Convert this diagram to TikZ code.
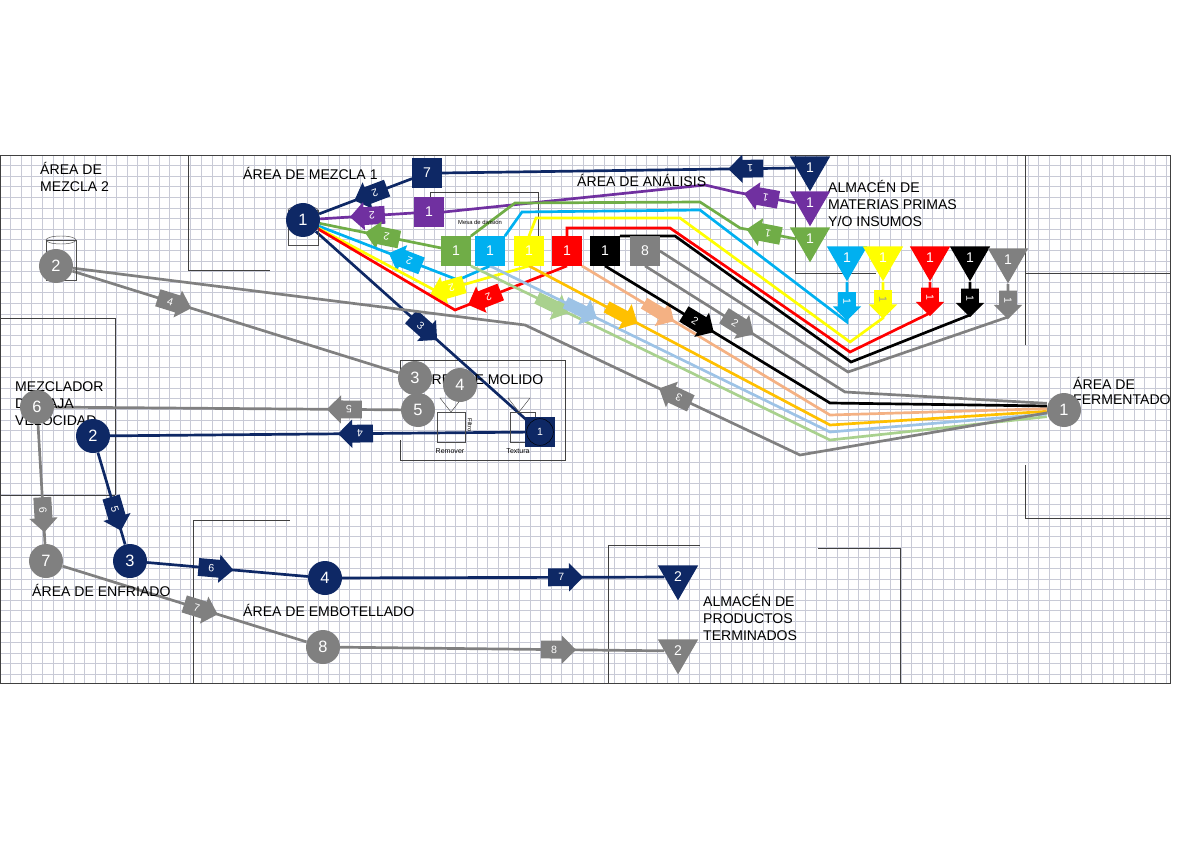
\documentclass[tikz,border=0pt]{standalone}
\usepackage{fontspec}
\setmainfont{Liberation Sans}
\usetikzlibrary{shapes.geometric,shapes.arrows}
\pgfdeclarelayer{background}
\pgfsetlayers{background,main}
\definecolor{nv}{HTML}{0E2865}
\definecolor{pu}{HTML}{7030A0}
\definecolor{gr}{HTML}{70AD47}
\definecolor{cy}{HTML}{00B0F0}
\definecolor{ye}{HTML}{FFFF00}
\definecolor{rd}{HTML}{FF0000}
\definecolor{gy}{HTML}{808080}
\definecolor{lg}{HTML}{A9D18E}
\definecolor{lb}{HTML}{9DC3E6}
\definecolor{og}{HTML}{FFC000}
\definecolor{pc}{HTML}{F4B183}
\definecolor{gridc}{HTML}{C8CAD6}
\tikzset{
 circ/.style={circle,fill=#1,text=white,minimum size=1.02cm,inner sep=0pt,font=\fontsize{14}{14}\selectfont},
 sq/.style={rectangle,fill=#1,text=white,minimum size=0.88cm,inner sep=0pt,font=\fontsize{12}{12}\selectfont},
 tri/.style={regular polygon,regular polygon sides=3,shape border rotate=180,fill=#1,text=white,minimum size=1.4cm,inner sep=0pt,font=\fontsize{12}{12}\selectfont},
 arr/.style={single arrow,fill=#1,text=white,minimum height=1.05cm,minimum width=0.85cm,single arrow head extend=0.12cm,inner sep=1.5pt,font=\fontsize{9}{9}\selectfont,sloped,allow upside down},
 fl/.style={draw=#1,line width=2.3pt},
 lbl/.style={font=\fontsize{12}{14.5}\selectfont,align=left,inner sep=0pt},
 wall/.style={draw=black!75,line width=0.8pt}
}
\begin{document}
\begin{tikzpicture}[x=0.03cm,y=-0.03cm]
\useasboundingbox (0,0) rectangle (1200,849);
% labels
\node[lbl,anchor=north west] at (40,162) {ÁREA DE\\MEZCLA 2};
\node[lbl,anchor=west] at (243,173) {ÁREA DE MEZCLA 1};
\node[lbl,anchor=west] at (577,180) {ÁREA DE ANÁLISIS};
\node[lbl,anchor=north west] at (828,180) {ALMACÉN DE\\MATERIAS PRIMAS\\Y/O INSUMOS};
\node[lbl,anchor=north west] at (1073,377) {ÁREA DE\\[-2pt]FERMENTADO};
\node[lbl,anchor=west] at (422,378) {ÁREA DE MOLIDO};
\node[lbl,anchor=north west] at (15,381) {MEZCLADOR\\DE BAJA\\VELOCIDAD};
\node[lbl,anchor=west] at (32,590) {ÁREA DE ENFRIADO};
\node[lbl,anchor=west] at (243,610) {ÁREA DE EMBOTELLADO};
\node[lbl,anchor=north west] at (703,594) {ALMACÉN DE\\PRODUCTOS\\TERMINADOS};
\node[font=\fontsize{5}{5}\selectfont] (mesa) at (480,222) {Mesa de división};
\node[font=\fontsize{6}{6}\selectfont] (rem) at (450,451) {Remover};
\node[font=\fontsize{6}{6}\selectfont] (tex) at (518,451) {Textura};
\node[font=\fontsize{5}{5}\selectfont,rotate=-90] (fil) at (470,425) {Filtro};
% small equipment
\draw[black!70] (437,412) rectangle (465,442);
\draw[black!70] (510,412) rectangle (535,442);
\draw[black!70] (440,398) -- (462,398) -- (451,412) -- cycle;
\draw[black!70] (508,398) -- (530,398) -- (519,412) -- cycle;
\draw[black!70] (46,240) rectangle (76,280); \draw[black!70] (61,240) ellipse (15 and 4);
\draw[black!70] (288,210) rectangle (318,245); \draw[black!70] (303,210) ellipse (15 and 4);
% nodes
\node[circ=nv] (m1) at (303,220) {1};
\node[sq=nv] (b7) at (427,173) {7};
\node[sq=pu] (bPu) at (429,212) {1};
\node[sq=gr] (bG) at (456,251) {1};
\node[sq=cy] (bC) at (490,251) {1};
\node[sq=ye] (bY) at (529,251) {1};
\node[sq=rd] (bR) at (567,251) {1};
\node[sq=black] (bB) at (605,251) {1};
\node[sq=gy] (b8) at (645,251) {8};
\node[tri=nv] (tN) at (810,168) {1};
\node[tri=pu] (tPu) at (810,203) {1};
\node[tri=gr] (tG) at (810,239) {1};
\node[tri=cy] (tC) at (847,258) {1};
\node[tri=ye] (tY) at (883,258) {1};
\node[tri=rd] (tR) at (930,258) {1};
\node[tri=black] (tB) at (970,258) {1};
\node[tri=gy] (tGr) at (1008,260) {1};
\node[circ=gy] (fer) at (1064,410) {1};
\node[sq=nv,minimum size=0.9cm] (molsq) at (540,432) {};
\node[circ=nv,draw=black,minimum size=0.8cm,font=\fontsize{9}{9}\selectfont] (mol) at (540,432) {1};
\node[circ=gy] (g3) at (415,378) {3};
\node[circ=gy] (g4) at (460,385) {4};
\node[circ=gy] (g5) at (418,410) {5};
\node[circ=gy] (g6) at (37,407) {6};
\node[circ=gy] (g2) at (56,266) {2};
\node[circ=gy] (g7) at (46,561) {7};
\node[circ=gy] (g8) at (323,647) {8};
\node[circ=nv] (n2) at (93,436) {2};
\node[circ=nv] (n3) at (130,561) {3};
\node[circ=nv] (n4) at (325,578) {4};
\node[tri=nv] (tP1) at (678,577) {2};
\node[tri=gy] (tP2) at (678,651) {2};
\begin{pgfonlayer}{background}
% grid
\foreach \x in {0,10.6,...,1170} \draw[gridc,line width=0.6pt] (\x,155) -- (\x,683);
\foreach \y in {155,165.6,...,683} \draw[gridc,line width=0.6pt] (0,\y) -- (1170,\y);
\draw[black!75,line width=0.8pt] (0,155) rectangle (1170,683);
% walls
\draw[wall] (188,155) -- (188,270) -- (270,270);
\draw[wall] (430,225) -- (430,192) -- (538,192) -- (538,240);
\draw[wall] (795,155) -- (795,273) -- (876,273);
\draw[wall] (1025,155) -- (1025,345);
\draw[wall] (1025,273) -- (1170,273);
\draw[wall] (0,318) -- (115,318) -- (115,495);
\draw[wall] (0,495) -- (115,495);
\draw[wall] (400,375) -- (400,360) -- (565,360) -- (565,460) -- (400,460) -- (400,440);
\draw[wall] (193,683) -- (193,520) -- (290,520);
\draw[wall] (608,683) -- (608,545) -- (700,545);
\draw[wall] (818,548) -- (900,548) -- (900,683);
\draw[wall] (1025,465) -- (1025,518) -- (1170,518);
% navy flow
\draw[fl=nv] (tN.west) -- node[arr=nv,pos=0.13]{1} (b7.east);
\draw[fl=nv] (b7) -- node[arr=nv,pos=0.4]{2} (m1);
\draw[fl=nv] (m1) -- node[arr=nv,pos=0.49]{3} (mol);
\draw[fl=nv] (mol) -- node[arr=nv,pos=0.4]{4} (n2);
\draw[fl=nv] (n2) -- node[arr=nv,pos=0.62]{5} (n3);
\draw[fl=nv] (n3) -- node[arr=nv,pos=0.4]{6} (n4);
\draw[fl=nv] (n4) -- node[arr=nv,pos=0.68]{7} (tP1);
% purple
\draw[fl=pu] (tPu.west) -- node[arr=pu,pos=0.5]{1} (735,192) -- (705,185) -- (bPu.east);
\draw[fl=pu] (bPu) -- node[arr=pu,pos=0.45]{2} (m1);
% green
\draw[fl=gr] (tG.west) -- node[arr=gr,pos=0.5]{1} (740,228) -- (700,202) -- (515,203) -- (bG.north east);
\draw[fl=gr] (bG) -- node[arr=gr,pos=0.45]{2} (m1);
% cyan
\draw[fl=cy] (tC.south) -- node[arr=cy,pos=0.5,minimum height=0.85cm]{1} (847,322) -- (700,210) -- (522,212) -- (bC.north east);
\draw[fl=cy] (bC.south) -- (458,280) -- node[arr=cy,pos=0.35]{2} (m1);
% yellow
\draw[fl=ye] (tY.south) -- node[arr=ye,text=black!40,pos=0.5,minimum height=0.85cm]{1} (883,318) -- (850,342) -- (680,218) -- (536,218) -- (bY.north);
\draw[fl=ye] (bY.south) -- node[arr=ye,pos=0.85]{2} (438,292) -- (m1);
% red
\draw[fl=rd] (tR.south) -- node[arr=rd,pos=0.5,minimum height=0.85cm]{1} (930,313) -- (850,352) -- (670,228) -- (567,228) -- (bR.north);
\draw[fl=rd] (bR.south) -- node[arr=rd,pos=0.7]{2} (455,310) -- (m1);
% black
\draw[fl=black] (tB.south) -- node[arr=black,pos=0.5,minimum height=0.85cm]{1} (970,315) -- (851,362) -- (675,236) -- (bB.north east);
% gray tri
\draw[fl=gy] (tGr.south) -- node[arr=gy,pos=0.5,minimum height=0.85cm]{1} (1008,317) -- (848,372) -- (b8.east);
% to fermentado
\draw[fl=lg] (bG.south east) -- node[arr=lg,pos=0.22]{} (830,440) -- ([yshift=-0.2cm]fer.west);
\draw[fl=lb] (bC.south) -- node[arr=lb,pos=0.26]{} (830,432) -- ([yshift=-0.12cm]fer.west);
\draw[fl=og] (bY.south) -- node[arr=og,pos=0.3]{} (830,425) -- ([yshift=-0.04cm]fer.west);
\draw[fl=pc] (bR.south east) -- node[arr=pc,pos=0.3]{} (830,415) -- ([yshift=0.04cm]fer.west);
\draw[fl=black] (bB.south) -- node[arr=black,pos=0.4]{2} (830,403) -- ([yshift=0.12cm]fer.west);
\draw[fl=gy] (b8.south) -- node[arr=gy,pos=0.45]{2} (845,392) -- ([yshift=0.2cm]fer.west);
% gray process
\draw[fl=gy] (fer) -- (800,455) -- node[arr=gy,pos=0.44]{3} (525,325) -- (g2);
\draw[fl=gy] (g2) -- node[arr=gy,pos=0.3]{4} (g3);
\draw[fl=gy] (g5) -- node[arr=gy,pos=0.15]{5} (g6);
\draw[fl=gy] (g6) -- node[arr=gy,pos=0.72]{6} (g7);
\draw[fl=gy] (g7) -- node[arr=gy,pos=0.55]{7} (g8);
\draw[fl=gy] (g8) -- node[arr=gy,pos=0.66]{8} (tP2);
\end{pgfonlayer}
\end{tikzpicture}
\end{document}
